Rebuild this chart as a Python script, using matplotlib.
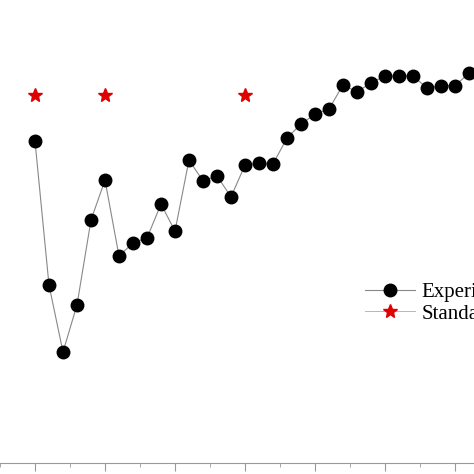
import matplotlib
matplotlib.use('Agg')
import matplotlib.pyplot as plt
from matplotlib.ticker import FixedLocator
from matplotlib.lines import Line2D

# data
x_exp = list(range(1, 33))
y_exp = [107.3, 59.3, 37.0, 52.7, 81.0, 94.3, 69.0, 73.3, 75.0, 86.3,
         77.3, 101.0, 94.0, 95.7, 88.7, 99.3, 100.0, 99.7, 108.3, 113.0,
         116.3, 118.0, 126.0, 123.7, 126.7, 129.0, 129.0, 129.0, 125.0, 125.7,
         125.7, 130.0]
x_std = [1, 6, 16]
y_std = [122.7, 122.7, 122.7]

fig = plt.figure(figsize=(4.74, 4.74), dpi=100)
ax = fig.add_axes([0, 11/474, 1, 1.2])
ax.plot(x_exp, y_exp, color='#888888', lw=0.8, marker='o', ms=9,
        mfc='black', mec='black')
ax.plot(x_std, y_std, ls='none', marker='*', ms=10,
        mfc='#e00000', mec='#e00000')
ax.set_xlim(1 - 35/14, 1 + 439/14)
ax.set_ylim(0, 158*1.2)
for s in ['top', 'left', 'right']:
    ax.spines[s].set_visible(False)
ax.spines['bottom'].set_color('#999999')
ax.xaxis.set_major_locator(FixedLocator([1 + 5*k for k in range(-1, 8)]))
ax.xaxis.set_minor_locator(FixedLocator([3.5 + 5*k for k in range(-1, 7)]))
ax.tick_params(axis='x', which='major', length=6, color='#999999', labelbottom=False)
ax.tick_params(axis='x', which='minor', length=3, color='#999999')
ax.set_yticks([])

# legend
h1 = Line2D([], [], color='#888888', lw=0.8, marker='o', ms=9, mfc='black', mec='black')
h2 = Line2D([], [], color='#ff8888', lw=0.6, marker='*', ms=10, mfc='#e00000', mec='#e00000')
fig.legend([h1, h2], ['Experimental', 'Standard'], frameon=False,
           loc='upper left', bbox_to_anchor=(355/474, 1 - 272/474),
           prop={'family': 'Liberation Serif', 'size': 15},
           handlelength=2.4, handletextpad=0.3, labelspacing=0.1, borderpad=0)
fig.savefig('out.png', dpi=100)
